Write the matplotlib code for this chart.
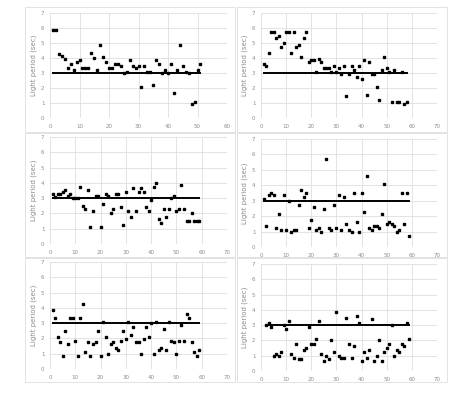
import numpy as np
import matplotlib
matplotlib.use("Agg")
import matplotlib.pyplot as plt
from matplotlib.patches import Rectangle

# light period (sec) per trial
p1 = [5.87, 5.87, 4.24, 4.11, 3.96, 3.33, 3.6, 3.2, 3.71, 3.84, 3.33, 3.33, 3.33,
      4.33, 3.98, 3.2, 4.87, 4.09, 3.71, 3.33, 3.33, 3.58, 3.58, 3.47, 2.98, 3.09,
      3.84, 3.47, 3.33, 3.47, 2.07, 3.47, 3.09, 3.09, 2.2, 3.84, 3.6, 2.98, 3.2,
      2.98, 3.6, 1.69, 3.2, 4.87, 3.47, 3.09, 2.98, 0.93, 1.04, 3.2, 3.6]
p2 = [3.6, 3.47, 4.36, 5.73, 5.73, 5.36, 5.49, 4.73, 4.98, 5.73, 5.73, 4.36, 5.73,
      4.73, 4.84, 4.09, 5.36, 5.73, 3.71, 3.84, 3.84, 3.09, 3.96, 3.71, 3.33, 3.33,
      3.33, 3.09, 3.47, 3.09, 3.33, 2.96, 3.47, 1.44, 2.96, 3.47, 3.2, 2.71, 3.47,
      2.58, 3.84, 1.56, 3.71, 2.96, 2.96, 2.07, 1.18, 3.2, 4.09, 3.33, 3.09, 1.04,
      3.2, 1.04, 1.04, 3.09, 0.93, 1.04]
p3 = [3.27, 3.07, 3.27, 3.27, 3.38, 3.51, 3.14, 3.27, 3.01, 3.01, 3.01, 3.75, 2.51,
      2.27, 3.51, 1.13, 2.14, 3.14, 3.14, 1.13, 2.64, 3.27, 3.14, 2.0, 2.27, 3.27,
      3.27, 2.4, 1.26, 3.38, 2.14, 1.77, 3.64, 2.14, 3.38, 3.64, 3.38, 2.4, 2.14,
      2.88, 3.75, 4.01, 1.64, 1.4, 2.27, 1.77, 2.27, 3.01, 3.14, 2.14, 2.27, 3.88,
      2.27, 1.53, 1.53, 2.0, 1.53, 1.53, 1.53]
p4 = [3.11, 1.35, 3.35, 3.48, 3.35, 1.24, 2.11, 1.11, 3.35, 1.11, 2.98, 0.98, 1.11,
      1.11, 2.72, 3.72, 3.22, 3.48, 1.24, 1.74, 2.61, 1.11, 1.24, 0.98, 2.48, 5.7,
      1.24, 1.11, 2.72, 1.24, 3.35, 1.11, 3.22, 1.48, 1.11, 0.98, 3.48, 1.61, 0.98,
      3.48, 2.24, 4.59, 1.24, 1.11, 1.35, 1.35, 1.24, 2.11, 4.09, 1.48, 1.61, 1.48,
      1.35, 0.98, 1.11, 3.48, 1.48, 3.48, 0.74]
p5 = [3.86, 3.36, 2.12, 1.74, 0.87, 2.49, 1.61, 3.36, 3.36, 1.85, 0.87, 3.36, 4.23,
      1.13, 1.74, 0.87, 1.61, 1.74, 2.49, 0.87, 3.1, 2.12, 1.0, 1.61, 1.74, 1.37,
      1.24, 1.85, 2.49, 1.98, 3.1, 2.25, 2.75, 1.74, 1.74, 1.0, 1.98, 2.75, 2.12,
      2.99, 1.0, 3.1, 1.24, 1.37, 2.62, 1.24, 3.1, 1.85, 1.74, 1.0, 1.85, 2.86,
      1.85, 3.6, 3.36, 1.74, 1.13, 0.87, 1.24]
p6 = [3.0, 3.13, 2.89, 1.0, 1.14, 1.0, 1.25, 3.0, 2.76, 3.26, 1.14, 0.88, 1.75,
      0.77, 0.77, 1.38, 1.51, 2.89, 1.75, 1.75, 2.12, 3.26, 1.14, 0.63, 1.0, 0.77,
      2.01, 1.25, 3.87, 1.0, 0.88, 0.88, 3.5, 1.75, 0.88, 1.64, 3.63, 3.13, 0.63,
      1.25, 0.88, 1.38, 3.39, 0.63, 1.0, 2.01, 0.63, 1.25, 1.51, 1.75, 3.0, 1.0,
      1.38, 1.25, 1.75, 1.64, 3.13, 2.12]

series = [p1, p2, p3, p4, p5, p6]
first_x = [1, 1, 1, 1, 1, 2]
x_max = [60, 70, 70, 70, 70, 70]
target = 3.0

W, H = 474, 395
fig = plt.figure(figsize=(W / 100, H / 100), dpi=100)
fig.patch.set_facecolor("white")

# panel frames (pixels: x0, y0, x1, y1)
frames = [(25, 7, 235, 132), (237, 7, 447, 132),
          (25, 133, 235, 257), (237, 133, 447, 257),
          (25, 258, 235, 382), (237, 258, 447, 382)]
for x0, y0, x1, y1 in frames:
    fig.patches.append(Rectangle((x0 / W, 1 - y1 / H), (x1 - x0) / W, (y1 - y0) / H,
                                 transform=fig.transFigure, fill=False,
                                 edgecolor="#e2e2e2", lw=0.7))

# plot areas in pixels
boxes = [(50, 13, 227, 118), (261, 13, 437, 118),
         (50, 137, 227, 244), (261, 139, 437, 247),
         (50, 262, 227, 369), (261, 264, 437, 371)]

grey = "#8c8c8c"
for i, (x0, y0, x1, y1) in enumerate(boxes):
    ax = fig.add_axes([x0 / W, 1 - y1 / H, (x1 - x0) / W, (y1 - y0) / H])
    y = series[i]
    x = np.arange(first_x[i], first_x[i] + len(y))
    ax.plot([x[0], x[-1]], [target, target], color="black", lw=1.4, zorder=3)
    ax.plot(x, y, "s", color="black", ms=1.8, zorder=4)
    ax.set_xlim(0, x_max[i])
    ax.set_ylim(0, 7)
    ax.set_xticks(np.arange(0, x_max[i] + 1, 10))
    ax.set_yticks(np.arange(0, 8, 1))
    ax.grid(True, color="#dedede", lw=0.6)
    ax.set_axisbelow(True)
    for s in ax.spines.values():
        s.set_visible(False)
    ax.tick_params(length=0, labelsize=4, labelcolor=grey, pad=4)
    ax.set_ylabel("Light period (sec)", fontsize=5, color=grey, labelpad=3)

fig.savefig("out.png", dpi=100)
